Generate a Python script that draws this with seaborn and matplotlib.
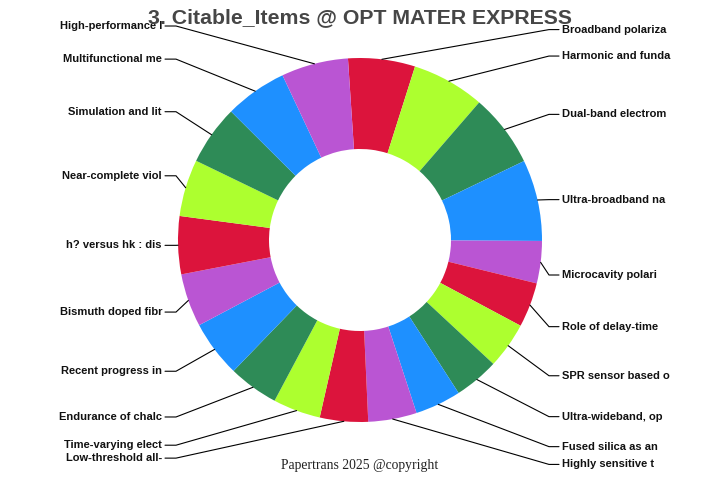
import numpy as np
import pandas as pd
import seaborn as sns
import matplotlib
matplotlib.use("Agg")
import matplotlib.pyplot as plt

# --- data (clockwise from the top) ---
titles = [
    "Broadband polariza", "Harmonic and funda", "Dual-band electrom", "Ultra-broadband na",
    "Microcavity polari", "Role of delay-time", "SPR sensor based o", "Ultra-wideband, op",
    "Fused silica as an", "Highly sensitive t", "Low-threshold all-", "Time-varying elect",
    "Endurance of chalc", "Recent progress in", "Bismuth doped fibr", "h? versus hk : dis",
    "Near-complete viol", "Simulation and lit", "Multifunctional me", "High-performance l",
]
citable = [21.4, 23.3, 23.4, 26.0, 13.5, 14.3, 14.8, 14.3, 14.7, 15.5,
           15.4, 15.2, 16.0, 18.1, 17.0, 18.5, 18.2, 19.1, 19.9, 21.4]
base_colors = ["#DC143C", "#ADFF2F", "#2E8B57", "#1E90FF", "#BA55D3"]

df = pd.DataFrame({"title": titles, "value": citable})

sns.set_theme(style="white")
plt.rcParams["font.family"] = ["Liberation Sans", "DejaVu Sans"]

W, H = 720, 480
fig = plt.figure(figsize=(7.2, 4.8), dpi=100)
ax = fig.add_axes([0, 0, 1, 1])

cx, cy, R = 360, 240, 182
start = 93.8
palette = sns.color_palette(base_colors)
colors = [palette[i % len(palette)] for i in range(len(df))]

wedges, _ = ax.pie(
    df["value"], colors=colors, startangle=start, counterclock=False,
    center=(cx, cy), radius=R,
    wedgeprops=dict(width=R * 0.5, linewidth=0),
)
ax.set_xlim(0, W)
ax.set_ylim(0, H)
ax.set_aspect("equal")
ax.axis("off")

# --- outside labels with leader lines ---
R_lab = 220
for w, t in zip(wedges, df["title"]):
    mid = np.deg2rad((w.theta1 + w.theta2) / 2)
    x0 = cx + R * np.cos(mid)
    y0 = cy + R * np.sin(mid)
    if np.cos(mid) >= 0:
        ly = cy - 8 + R_lab * np.sin(mid)
        kx, tx, ha = 549, 562, "left"
        ex = tx - 3
    else:
        ly = cy + 1 + R_lab * np.sin(mid)
        kx, tx, ha = 176, 162, "right"
        ex = tx + 3
    ax.plot([x0, kx, ex], [y0, ly, ly], color="black", lw=0.8,
            solid_joinstyle="miter")
    ax.text(tx, ly, t, ha=ha, va="center", fontsize=8, fontweight="bold",
            color="#111111")

ax.text(360, H - 18, "3. Citable_Items @ OPT MATER EXPRESS", ha="center",
        va="center", fontsize=15.3, fontweight="bold", color="#464646")
ax.text(360, H - 466, "Papertrans 2025 @copyright", ha="center", va="center",
        fontsize=9.8, family=["Liberation Serif", "DejaVu Serif"], color="#222222")

fig.savefig("out.png", dpi=100)
